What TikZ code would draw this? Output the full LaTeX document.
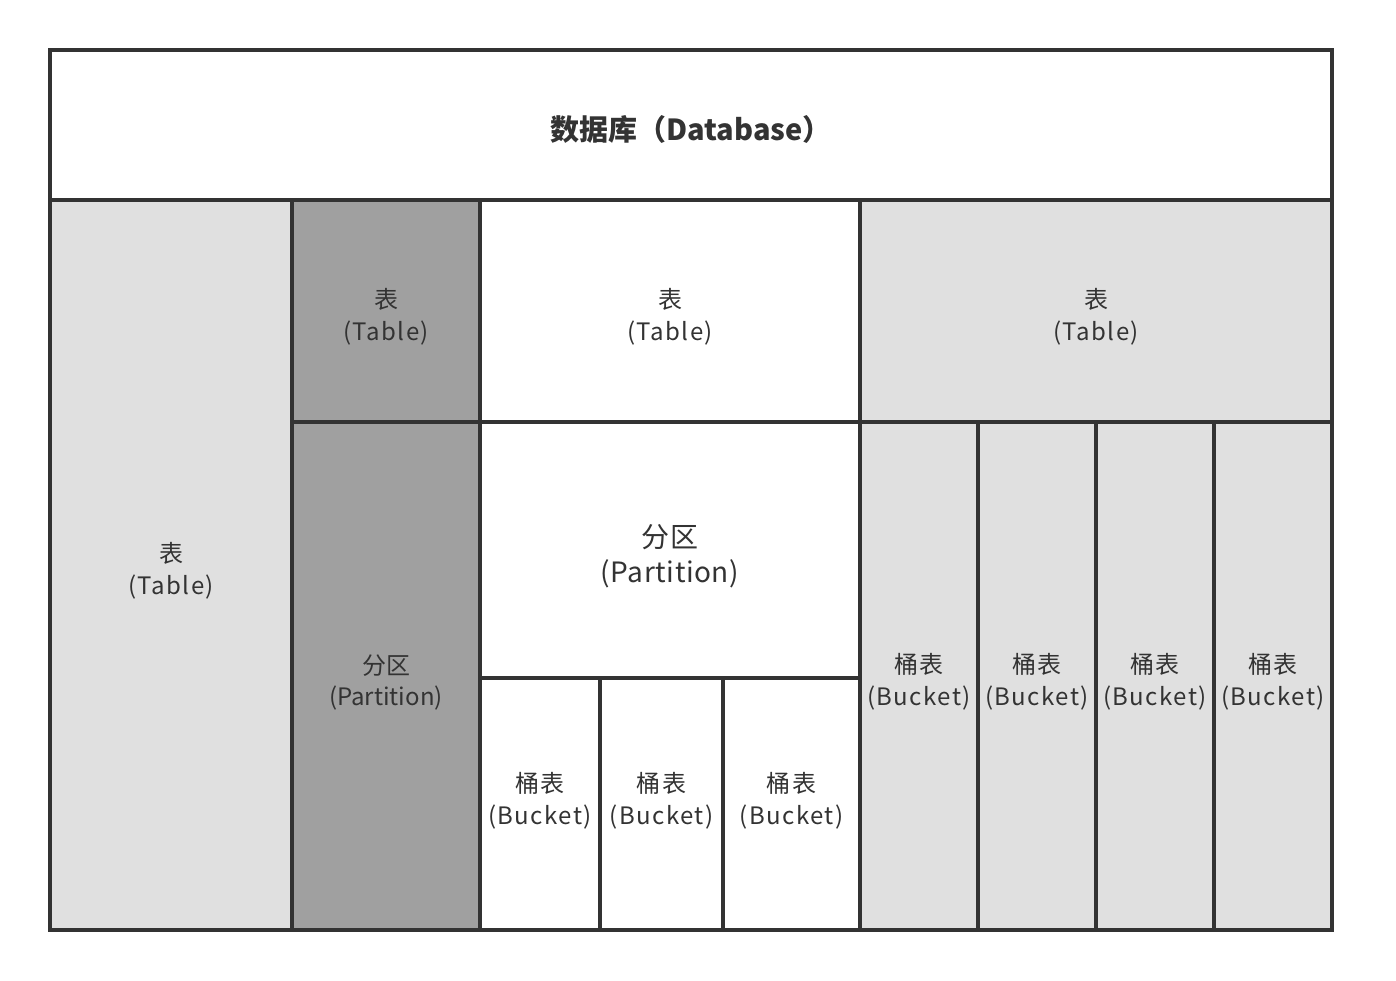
\documentclass[tikz,border=0pt]{standalone}
\usepackage{fontspec}
\setmainfont{Noto Sans CJK SC}
\newfontfamily\wideface{Noto Sans CJK SC}[LetterSpace=6]
\newfontfamily\midface{Noto Sans CJK SC}[LetterSpace=2]
\definecolor{linec}{HTML}{333333}
\definecolor{textc}{HTML}{333333}
\definecolor{lightg}{HTML}{E0E0E0}
\definecolor{darkg}{HTML}{A0A0A0}
\newcommand{\mkcell}[9]{%
  \node[cellbox, fill=#6, anchor=north west,
        minimum width={(#4)-(#2)}, minimum height={(#5)-(#3)}] (#1) at (#2,#3) {};
  \node[celltxt, #9] (#1-txt) at ([yshift=#8]#1.center) {#7};}
\begin{document}
\begin{tikzpicture}[x=1pt,y=-1pt,
  cellbox/.style={draw=linec, line width=4pt, rectangle, inner sep=0pt, outer sep=0pt},
  celltxt/.style={inner sep=0pt, align=center, text=textc, font=\wideface\fontsize{24}{32}\selectfont},
  parttxt/.style={font=\fontsize{24}{31}\selectfont},
  bigtxt/.style={font=\midface\fontsize{28}{35}\selectfont},
  dbtxt/.style={font=\fontsize{29}{34}\selectfont\bfseries}]
\useasboundingbox (0,0) rectangle (1396,980);
\fill[white] (0,0) rectangle (1396,980);
% database
\mkcell{db}{50}{50}{1332}{200}{white}{数据库（Database）}{-4pt}{dbtxt}
% column 1
\mkcell{t1}{50}{200}{292}{930}{lightg}{表\\(Table)}{-6pt}{}
% column 2
\mkcell{t2}{292}{200}{480}{422}{darkg}{表\\(Table)}{-6pt}{}
\mkcell{p2}{292}{422}{480}{930}{darkg}{分区\\(Partition)}{-6pt}{parttxt}
% column 3
\mkcell{t3}{480}{200}{860}{422}{white}{表\\(Table)}{-6pt}{}
\mkcell{p3}{480}{422}{860}{677.5}{white}{分区\\(Partition)}{-6pt}{bigtxt}
\mkcell{b31}{480}{677.5}{600}{930}{white}{桶表\\(Bucket)}{3pt}{}
\mkcell{b32}{600}{677.5}{723}{930}{white}{桶表\\(Bucket)}{3pt}{}
\mkcell{b33}{723}{677.5}{860}{930}{white}{桶表\\(Bucket)}{3pt}{}
% column 4
\mkcell{t4}{860}{200}{1332}{422}{lightg}{表\\(Table)}{-6pt}{}
\mkcell{b41}{860}{422}{978}{930}{lightg}{桶表\\(Bucket)}{-6pt}{}
\mkcell{b42}{978}{422}{1096}{930}{lightg}{桶表\\(Bucket)}{-6pt}{}
\mkcell{b43}{1096}{422}{1214}{930}{lightg}{桶表\\(Bucket)}{-6pt}{}
\mkcell{b44}{1214}{422}{1332}{930}{lightg}{桶表\\(Bucket)}{-6pt}{}
\end{tikzpicture}
\end{document}
